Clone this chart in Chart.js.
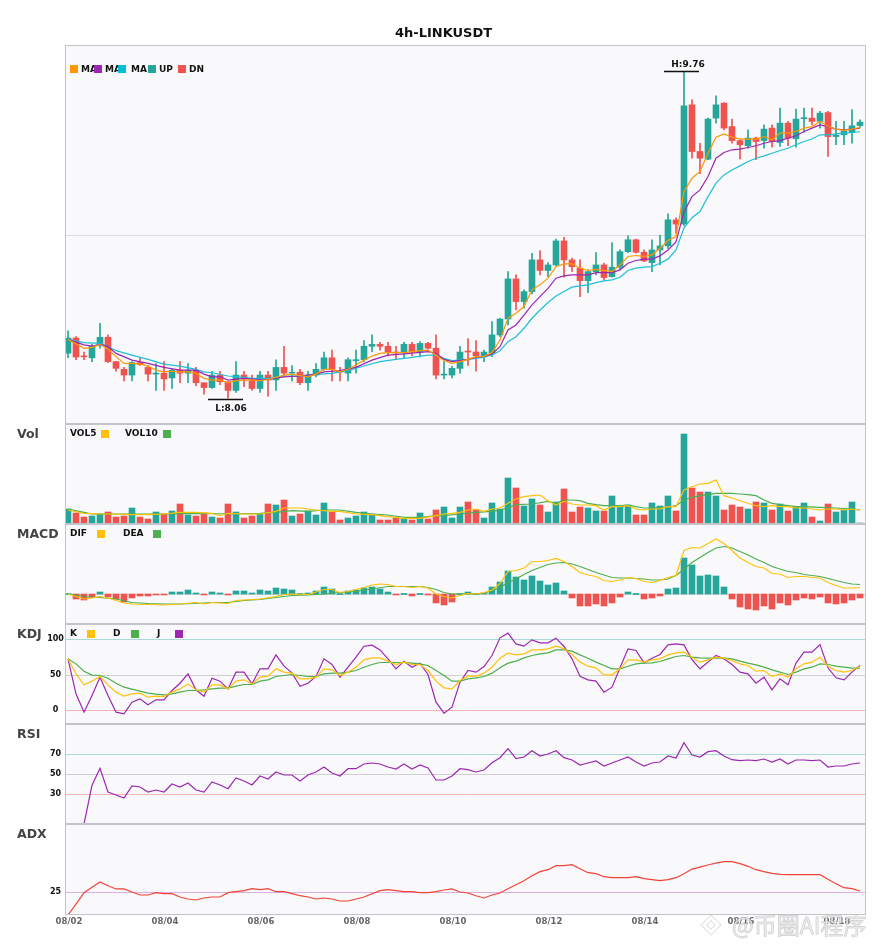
<!DOCTYPE html>
<html>
<head>
<meta charset="utf-8">
<title>4h-LINKUSDT</title>
<script src="https://cdn.jsdelivr.net/npm/chart.js@4.4.1/dist/chart.umd.min.js"></script>
<style>
  body { margin: 0; background: #fff; width: 885px; height: 950px; overflow: hidden; position: relative; }
  canvas { position: absolute; left: 0; }
</style>
</head>
<body>
<canvas id="cMain"></canvas>
<canvas id="cVol"></canvas>
<canvas id="cMacd"></canvas>
<canvas id="cKdj"></canvas>
<canvas id="cRsi"></canvas>
<canvas id="cAdx"></canvas>
<script>
// tick labels on the time axis (one 4h candle per index)
const dateTicks = ['08/02', '08/04', '08/06', '08/08', '08/10', '08/12', '08/14', '08/16', '08/18'];
const tickIndex = [0, 12, 24, 36, 48, 60, 72, 84, 96];

// candles
const open = [
  8.294, 8.373, 8.28, 8.27, 8.335, 8.377, 8.25, 8.21, 8.18, 8.245,
  8.22, 8.185, 8.19, 8.165, 8.205, 8.19, 8.205, 8.14, 8.115, 8.18,
  8.145, 8.10, 8.18, 8.155, 8.11, 8.18, 8.155, 8.22, 8.19, 8.195,
  8.14, 8.18, 8.21, 8.27, 8.20, 8.19, 8.255, 8.26, 8.33, 8.34,
  8.33, 8.30, 8.295, 8.34, 8.30, 8.345, 8.32, 8.18, 8.18, 8.215,
  8.305, 8.30, 8.275, 8.293, 8.389, 8.472, 8.681, 8.563, 8.615, 8.78,
  8.725, 8.754, 8.879, 8.78, 8.737, 8.672, 8.719, 8.754, 8.693, 8.742,
  8.823, 8.885, 8.82, 8.766, 8.832, 8.853, 8.988, 8.967, 9.588, 9.345,
  9.305, 9.519, 9.597, 9.475, 9.402, 9.375, 9.415, 9.402, 9.467, 9.392,
  9.493, 9.411, 9.516, 9.519, 9.502, 9.548, 9.423, 9.432, 9.444, 9.48
];
const high = [
  8.41, 8.38, 8.30, 8.34, 8.45, 8.39, 8.25, 8.22, 8.25, 8.27,
  8.23, 8.24, 8.25, 8.21, 8.25, 8.24, 8.22, 8.14, 8.20, 8.20,
  8.145, 8.25, 8.20, 8.18, 8.20, 8.20, 8.26, 8.33, 8.23, 8.21,
  8.20, 8.24, 8.30, 8.31, 8.22, 8.27, 8.31, 8.36, 8.39, 8.35,
  8.35, 8.33, 8.35, 8.35, 8.355, 8.35, 8.39, 8.25, 8.225, 8.33,
  8.37, 8.36, 8.31, 8.459, 8.476, 8.719, 8.702, 8.624, 8.815, 8.829,
  8.766, 8.888, 8.898, 8.789, 8.78, 8.728, 8.818, 8.763, 8.87, 8.832,
  8.905, 8.888, 8.832, 8.885, 8.91, 9.02, 9.00, 9.76, 9.614, 9.388,
  9.519, 9.635, 9.60, 9.514, 9.406, 9.458, 9.42, 9.484, 9.484, 9.571,
  9.502, 9.566, 9.571, 9.571, 9.554, 9.554, 9.502, 9.502, 9.563, 9.51
];
const low = [
  8.27, 8.26, 8.26, 8.25, 8.32, 8.245, 8.20, 8.15, 8.15, 8.23,
  8.15, 8.10, 8.10, 8.11, 8.14, 8.14, 8.125, 8.08, 8.11, 8.13,
  8.06, 8.09, 8.12, 8.10, 8.09, 8.07, 8.10, 8.18, 8.15, 8.13,
  8.10, 8.17, 8.205, 8.15, 8.15, 8.15, 8.19, 8.25, 8.30, 8.31,
  8.28, 8.26, 8.27, 8.28, 8.275, 8.315, 8.16, 8.16, 8.165, 8.19,
  8.23, 8.20, 8.25, 8.276, 8.38, 8.441, 8.519, 8.528, 8.603, 8.702,
  8.693, 8.749, 8.69, 8.72, 8.589, 8.61, 8.702, 8.676, 8.69, 8.728,
  8.818, 8.815, 8.771, 8.719, 8.754, 8.84, 8.92, 8.96, 9.31, 9.229,
  9.302, 9.493, 9.458, 9.388, 9.307, 9.363, 9.302, 9.363, 9.368, 9.371,
  9.375, 9.368, 9.444, 9.484, 9.467, 9.319, 9.38, 9.38, 9.389, 9.47
];
const close = [
  8.373, 8.274, 8.275, 8.33, 8.377, 8.25, 8.215, 8.18, 8.245, 8.235,
  8.185, 8.19, 8.16, 8.205, 8.19, 8.205, 8.14, 8.115, 8.18, 8.145,
  8.10, 8.18, 8.16, 8.11, 8.18, 8.155, 8.22, 8.19, 8.195, 8.14,
  8.18, 8.21, 8.27, 8.21, 8.195, 8.26, 8.26, 8.33, 8.34, 8.33,
  8.30, 8.295, 8.34, 8.30, 8.345, 8.32, 8.18, 8.185, 8.215, 8.30,
  8.30, 8.28, 8.30, 8.389, 8.472, 8.681, 8.563, 8.615, 8.78, 8.725,
  8.754, 8.879, 8.78, 8.745, 8.672, 8.719, 8.754, 8.688, 8.742, 8.823,
  8.885, 8.82, 8.775, 8.832, 8.853, 8.989, 8.967, 9.583, 9.345, 9.31,
  9.514, 9.588, 9.467, 9.402, 9.38, 9.415, 9.397, 9.462, 9.397, 9.493,
  9.415, 9.514, 9.519, 9.502, 9.545, 9.423, 9.43, 9.45, 9.479, 9.498
];

// moving averages (null = not read, line spans it)
const ma5 = [
  8.366, null, 8.319, 8.324, 8.34, 8.314, 8.276, 8.241, 8.241, 8.237,
  8.227, 8.206, 8.197, 8.2, 8.197, 8.197, 8.189, 8.163, 8.154, 8.154,
  8.14, 8.151, 8.154, 8.154, 8.151, 8.157, null, 8.18, 8.185, null,
  8.171, 8.185, 8.21, 8.21, 8.197, 8.21, 8.232, 8.258, 8.279, 8.293,
  8.297, null, 8.297, null, 8.307, 8.31, 8.284, 8.255, 8.241, 8.25,
  8.262, 8.276, 8.276, 8.297, 8.363, 8.476, 8.502, 8.537, 8.624, 8.65,
  8.685, 8.745, 8.759, 8.759, 8.737, 8.725, 8.731, 8.725, 8.719, 8.754,
  8.798, 8.803, 8.798, 8.806, 8.841, 8.881, 8.902, 9.135, 9.206, 9.241,
  9.336, 9.42, 9.437, 9.42, 9.41, 9.41, 9.41, 9.423, 9.406, 9.441,
  9.441, 9.449, 9.467, 9.475, 9.501, 9.475, 9.462, 9.455, 9.462, 9.47
];
const ma10 = [
  8.366, null, 8.337, 8.331, 8.34, 8.328, 8.293, null, 8.258, null,
  8.241, null, 8.22, null, 8.206, null, 8.206, 8.185, 8.171, 8.171,
  8.154, null, 8.163, null, 8.157, 8.157, null, 8.171, null, 8.175,
  null, 8.185, 8.197, null, 8.203, null, 8.22, null, 8.258, null,
  8.284, null, 8.29, null, 8.298, 8.302, 8.293, 8.262, 8.25, null,
  8.262, 8.273, 8.276, 8.29, 8.328, 8.415, 8.441, 8.493, 8.546, 8.589,
  8.632, 8.685, 8.697, 8.702, 8.702, 8.702, 8.714, 8.714, 8.714, 8.728,
  8.763, 8.777, 8.784, 8.784, 8.801, 8.832, 8.874, 9.03, 9.11, 9.145,
  9.215, 9.31, 9.34, 9.354, 9.357, 9.366, 9.375, 9.388, 9.397, 9.402,
  9.415, 9.427, 9.449, 9.467, 9.484, 9.475, 9.462, 9.458, 9.462, 9.467
];
const ma20 = [
  8.366, null, 8.349, null, 8.345, 8.328, 8.307, null, 8.284, null,
  8.262, null, 8.237, null, 8.227, null, 8.21, 8.197, 8.192, null,
  8.175, null, 8.168, 8.163, 8.163, 8.163, null, 8.175, null, 8.175,
  null, 8.184, null, 8.189, null, 8.203, null, 8.227, null, 8.25,
  null, 8.262, null, 8.272, null, 8.284, 8.284, 8.267, 8.255, null,
  8.262, 8.267, 8.273, 8.285, 8.307, 8.354, 8.38, 8.424, 8.476, 8.519,
  8.558, 8.592, 8.615, 8.638, 8.645, 8.65, 8.662, 8.671, 8.676, 8.69,
  8.725, 8.737, 8.742, 8.745, 8.763, 8.784, 8.832, 8.947, 9.0, 9.032,
  9.11, 9.18, 9.223, 9.249, 9.27, 9.293, 9.31, 9.322, 9.336, 9.35,
  9.362, 9.38, 9.397, 9.41, 9.432, 9.432, 9.437, 9.441, 9.444, 9.448
];

// volume (relative units, axis has no labels)
const volume = [
  15, 11, 7, 8, 10, 12, 7, 8, 16, 7,
  5, 12, 10, 13, 20, 9, 8, 11, 7, 6,
  20, 12, 6, 8, 10, 20, 19, 24, 8, 10,
  13, 9, 21, 12, 4, 6, 8, 12, 10, 4,
  4, 6, 5, 4, 11, 5, 14, 17, 6, 17,
  22, 14, 6, 21, 15, 46, 36, 18, 25, 19,
  12, 22, 35, 12, 17, 16, 13, 13, 28, 18,
  19, 9, 9, 21, 18, 28, 13, 90, 36, 32,
  32, 28, 14, 19, 17, 15, 22, 21, 14, 20,
  13, 17, 21, 7, 3, 20, 12, 14, 22, 1
];
const vol5 = [
  14, null, 10.7, null, 10, null, 10, null, 9.3, null,
  9.3, null, 10, null, 11.7, null, 11.7, null, 10.7, 8.3,
  10.7, null, 10, null, 10, null, 12.7, 16, null, 16,
  null, 14, null, 12.7, 12.7, null, 10, null, 9.3, null,
  7.3, null, 5.7, null, 5.7, null, 8.3, 10, 10.7, 11.7,
  14, 15, 12.7, 15, 16, 20.7, 25, 27.3, 28.3, 29,
  23.3, 19, 22.7, 20, 19, 19, 18.3, 14, 17.3, 17.3,
  18.3, 15, 14, 15, 15, 17.3, 17.3, 34, 37.3, 40,
  40.7, 44, 28.3, 26, 23.3, 20.7, 18.3, 17.3, 18.3, 17.3,
  17.3, 16, 16, 15, 14, 15, 15, 14, 15, 14
];
const vol10 = [
  15, null, 11.7, 10, null, 10, null, null, 10, null,
  null, null, 10, null, null, null, 10.7, null, null, null,
  10, null, null, null, 10.7, null, 11.7, null, 13.3, null,
  12.7, null, 14, null, 14, null, 11.7, null, 10, null,
  9, null, 6.7, null, 6.7, null, 8.3, 8.3, null, 10,
  null, 11.7, null, 12.7, 14, 16, 19.3, null, 20, null,
  22.7, 20.7, 24, 24, 23.3, 20.7, 19.3, 18.3, 18.3, 18.3,
  19, 17.3, 16, 16, 16.7, 16.7, 18.3, 24, 26.7, 28.3,
  29.3, 30.7, 30.7, 30.7, 30, 29.3, 28.3, 24, 20.7, 19.3,
  18.3, 17.3, 17.3, null, 16.7, null, 16, null, 15, 14
];

// MACD
const dif = [
  0, -0.005, -0.010, -0.008, -0.005, -0.008, -0.013, -0.018, -0.020, null,
  -0.021, null, -0.022, null, -0.020, null, -0.017, -0.020, -0.017, null,
  -0.019, -0.013, -0.012, null, -0.010, null, -0.005, -0.001, 0, null,
  -0.001, null, 0.009, 0.009, 0.003, 0.005, 0.009, 0.013, 0.018, 0.020,
  0.019, 0.015, 0.015, 0.013, 0.015, 0.012, 0, -0.005, -0.008, -0.003,
  0.001, 0, 0.003, 0.008, 0.021, 0.045, 0.047, 0.052, 0.065, 0.065,
  0.067, 0.071, 0.065, 0.055, 0.043, 0.038, 0.035, 0.027, 0.025, 0.028,
  0.033, 0.031, 0.025, 0.023, 0.027, 0.033, 0.037, 0.087, 0.093, 0.092,
  0.101, 0.110, 0.101, 0.087, 0.072, 0.063, 0.055, 0.052, 0.041, 0.040,
  0.033, 0.035, 0.035, 0.033, 0.032, 0.023, 0.017, 0.012, 0.012, 0.013
];
const dea = [
  0, null, -0.005, null, -0.007, null, -0.010, null, -0.017, null,
  -0.019, null, -0.020, null, -0.020, null, -0.019, null, -0.017, null,
  -0.017, null, -0.013, null, -0.011, null, -0.007, null, -0.003, null,
  -0.002, null, 0, null, 0.003, null, 0.005, null, 0.010, null,
  0.015, null, 0.015, null, 0.015, 0.013, 0.009, 0.003, 0, null,
  0, null, 0.001, 0.007, 0.013, 0.023, 0.030, 0.039, 0.047, 0.053,
  0.059, 0.062, 0.063, 0.060, 0.055, 0.049, 0.043, 0.038, 0.033, 0.032,
  0.032, 0.031, 0.030, 0.028, 0.028, 0.030, 0.037, 0.050, 0.063, 0.073,
  0.083, 0.092, 0.095, 0.092, 0.085, 0.078, 0.070, 0.063, 0.055, 0.050,
  0.045, 0.043, 0.039, 0.037, 0.035, 0.031, 0.027, 0.023, 0.020, 0.019
];
const macdHist = [
  0, -0.010, -0.012, -0.007, 0.004, -0.006, -0.010, -0.016, -0.008, -0.004,
  -0.004, -0.002, -0.002, 0.004, 0.004, 0.008, 0.002, -0.002, 0.004, 0.002,
  -0.002, 0.006, 0.006, 0.002, 0.008, 0.006, 0.012, 0.010, 0.008, 0.001,
  0.002, 0.006, 0.014, 0.010, 0.001, 0.006, 0.008, 0.012, 0.014, 0.010,
  0.004, -0.002, 0.001, -0.004, 0.001, -0.002, -0.018, -0.022, -0.016, 0.001,
  0.004, 0.001, 0.002, 0.014, 0.024, 0.046, 0.034, 0.028, 0.036, 0.026,
  0.018, 0.022, 0.006, -0.008, -0.024, -0.024, -0.020, -0.024, -0.018, -0.006,
  0.004, 0.001, -0.010, -0.008, -0.004, 0.010, 0.012, 0.072, 0.058, 0.036,
  0.038, 0.036, 0.014, -0.010, -0.026, -0.030, -0.032, -0.024, -0.030, -0.018,
  -0.022, -0.012, -0.008, -0.010, -0.006, -0.018, -0.020, -0.018, -0.012, -0.008
];

// KDJ
const kVals = [
  72.4, 51.2, 35.7, 40.9, 47.5, 35.7, 25.4, 19.7, 23, 24,
  18.3, 19.7, 19.3, 25.4, 30, 37.1, 28.7, 25.4, 35.7, 35.7,
  30, 40.9, 42.8, 37.1, 46.5, 47.9, 58.3, 53.6, 52.2, 44.2,
  44.2, 46.5, 58.3, 56.9, 48.9, 53.6, 60.6, 71, 73.8, 73.8,
  69.1, 64.4, 67.7, 64.4, 64.4, 55.9, 40.9, 31.5, 30, 41.8,
  47.9, 47.9, 52.2, 60.6, 73.3, 80.4, 78, 79.4, 85, 85,
  86.5, 90.2, 86.5, 78.5, 67.7, 62, 59.7, 49.8, 49.8, 58.3,
  71, 71, 67.7, 71, 72.4, 78, 80.8, 81.8, 74.7, 67.7,
  71, 74.7, 73.3, 70, 65.3, 63, 55, 55.9, 47.5, 51.2,
  46.5, 58.3, 65.3, 67.7, 74.7, 62, 55.9, 53.6, 55.9, 61.6
];
const dVals = [
  72.4, 65.3, 55, 49.4, 48.9, 45.1, 38, 32.4, 29.6, 26.8,
  24, 22.6, 21.6, 23, 25.4, 27.7, 27.7, 28.7, 30, 31,
  31, 33.8, 36.2, 36.2, 40.9, 42.8, 47.5, 48.9, 50.3, 48.9,
  47.5, 47.5, 51.2, 52.2, 52.2, 53.6, 55.9, 60.6, 64.4, 67.2,
  67.2, 67.2, 67.2, 66.3, 65.3, 63, 55.9, 48.9, 40.9, 40.9,
  44.2, 45.6, 47.5, 52.2, 59.7, 66.3, 69.1, 73.8, 77.1, 79.4,
  80.8, 85, 85, 83.2, 78, 73.3, 67.7, 63, 58.3, 58.3,
  62, 65.3, 66.3, 66.7, 68.6, 72.4, 75.7, 77.1, 74.7, 73.8,
  73.3, 73.3, 73.3, 72.4, 69.1, 66.3, 63.9, 60.6, 56.9, 53.6,
  50.3, 53.6, 58.3, 60.6, 65.3, 64.4, 62, 60.6, 59.2, 59.2
];
const jVals = [
  72.4, 23, -2.8, 20.7, 46.5, 20.7, -2.8, -5.2, 11.3, 16,
  7.5, 14.6, 14.6, 27.7, 38, 51.2, 28.7, 19.7, 45.1, 40.9,
  30, 53.6, 53.6, 37.1, 58.3, 58.3, 78, 62, 52.6, 33.8,
  38, 47.5, 72.4, 64.4, 46.5, 60.6, 74.7, 90.2, 91.6, 85,
  72.4, 58.3, 69.1, 60.6, 66.3, 50.3, 11.3, -4.2, 4.2, 39.5,
  55.9, 53.6, 61.6, 77.1, 102, 108.6, 93.5, 90.2, 99.2, 94.9,
  94.9, 101.5, 89.8, 72.4, 47.9, 42.8, 40.9, 25.4, 32.4, 59.7,
  86.5, 84.1, 66.7, 73.3, 78.5, 92.1, 93.5, 92.1, 71.4, 58.3,
  67.7, 77.1, 72.4, 64.4, 53.6, 51.2, 38, 46.5, 28.7, 44.2,
  35.7, 66.3, 81.8, 81.8, 92.6, 59.7, 45.6, 42.8, 53.6, 63
];

// RSI
const rsi = [
  null, null, 0, 38.7, 55.7, 32, 29, 26, 38, 37,
  32, 34, 32, 40, 37, 41, 34, 32, 42, 39,
  35.3, 46, 43, 39, 48, 45, 52, 49, 49, 43,
  49, 52, 57, 51, 48, 55.3, 55.3, 60, 61, 60,
  57, 55, 60, 55, 59, 56, 44, 44, 48, 55.3,
  54.3, 52, 54, 61.3, 66.3, 75.3, 65.3, 67, 73.3, 68,
  70, 73.3, 66.3, 64, 59, 61, 63, 58, 61, 64,
  67, 62, 58, 61, 62, 68, 66, 81.3, 69, 67,
  72.3, 73.3, 68, 64.3, 63.3, 64, 63.3, 65, 62, 65,
  60, 64, 64, 63.3, 64, 57, 58, 58, 60, 61
];

// ADX
const adx = [
  0, 12, 24.5, 30.4, 36.3, 32.2, 28.6, 28.6, 25.3, 22,
  22, 24.5, 23.4, 23.4, 19.8, 17.6, 16.5, 18.7, 19.8, 19.8,
  24.5, 25.6, 26.7, 28.9, 27.8, 28.9, 25.6, 25.6, 23.4, 21.2,
  19.8, 17.6, 18.7, 17.6, 15.4, 15.4, 17.6, 19.8, 23.4, 26.7,
  27.8, 26.7, 25.6, 25.6, 24.5, 24.5, 25.6, 27.5, 28.6, 25.3,
  24.2, 21.2, 18.7, 22, 24.2, 28.9, 33.3, 37.7, 43.2, 47.6,
  49.8, 54.2, 54.2, 55.3, 50.9, 46.5, 45.4, 42.1, 41, 41,
  41, 42.1, 39.9, 38.8, 37.7, 38.8, 41, 45.4, 50.5, 52.7,
  54.9, 57.1, 58.6, 58.6, 56.4, 53.5, 49.8, 47.6, 45.8, 44.7,
  44.3, 44.3, 44.3, 44.3, 44.3, 39.2, 34.4, 30, 28.9, 26.4
];

// ---- styling ----
const UP = '#26a69a', DN = '#ef5350';
const C_MA5 = '#ff9800', C_MA10 = '#9c27b0', C_MA20 = '#1ec0d8';
const C_YEL = '#ffc107', C_GRN = '#4caf50', C_PUR = '#9c27b0', C_ADX = '#f44336';
const PANEL_BG = '#f9f9fb', FRAME = '#c3c3cb';
const FONT = '"DejaVu Sans", "Noto Sans", sans-serif';
const X_MIN = -0.375, X_MAX = 99.75;

const candleColor = close.map((c, i) => (c >= open[i] ? UP : DN));
const histColor = macdHist.map(v => (v >= 0 ? UP : DN));
const xy = arr => arr.map((v, i) => ({ x: i, y: v }));

function lineSet(arr, color, width) {
  return {
    type: 'line', data: xy(arr), borderColor: color, borderWidth: width || 1.2,
    pointRadius: 0, spanGaps: true, fill: false, tension: 0, order: 0
  };
}
function barSet(arr, colors, thick, order) {
  return {
    type: 'bar', data: arr, backgroundColor: colors, borderWidth: 0,
    barThickness: thick, grouped: false, minBarLength: 1, order: order
  };
}
function text(ctx, s, x, y, font, color, align) {
  ctx.font = font;
  ctx.fillStyle = color;
  ctx.textAlign = align || 'left';
  ctx.textBaseline = 'middle';
  ctx.fillText(s, x, y);
}
function drawLegend(ctx, items, y) {
  items.forEach(it => {
    if (it.sq) {
      ctx.fillStyle = it.sq;
      ctx.fillRect(it.x, Math.round(y - 4), 8, 8);
    } else {
      text(ctx, it.t, it.x, y + 0.5, 'bold 9px ' + FONT, '#111');
    }
  });
}

function panelPlugin(spec) {
  return {
    id: 'panel',
    beforeDraw(chart) {
      const { ctx, chartArea: a } = chart;
      ctx.save();
      ctx.fillStyle = PANEL_BG;
      ctx.fillRect(a.left, a.top, a.right - a.left, a.bottom - a.top);
      ctx.restore();
    },
    beforeDatasetsDraw(chart) {
      const { ctx, chartArea: a, scales } = chart;
      ctx.save();
      ctx.lineWidth = 1;
      (spec.refs || []).forEach(([v, c]) => {
        const py = Math.round(scales.y.getPixelForValue(v)) + 0.5;
        ctx.strokeStyle = c;
        ctx.beginPath();
        ctx.moveTo(a.left, py);
        ctx.lineTo(a.right, py);
        ctx.stroke();
      });
      ctx.restore();
    },
    afterDraw(chart) {
      const { ctx, chartArea: a, scales } = chart;
      ctx.save();
      ctx.strokeStyle = FRAME;
      ctx.lineWidth = 1;
      ctx.strokeRect(a.left + 0.5, a.top + 0.5, a.right - a.left - 1, a.bottom - a.top - 1);
      if (spec.label) text(ctx, spec.label, 17, a.top + 11, 'bold 12.5px ' + FONT, '#444');
      (spec.ticks || []).forEach(v =>
        text(ctx, String(v), 55.5, scales.y.getPixelForValue(v), 'bold 8px ' + FONT, '#111', 'center'));
      if (spec.legend) drawLegend(ctx, spec.legend, a.top + spec.legendY);
      if (spec.extra) spec.extra(chart, ctx);
      ctx.restore();
    }
  };
}

function makeChart(id, top, height, pad, yMin, yMax, datasets, spec) {
  const cv = document.getElementById(id);
  cv.width = 885;
  cv.height = height;
  cv.style.top = top + 'px';
  cv.style.width = '885px';
  cv.style.height = height + 'px';
  return new Chart(cv, {
    type: 'bar',
    data: { datasets },
    options: {
      responsive: false,
      animation: false,
      events: [],
      layout: { padding: { left: 65, right: 19, top: pad[0], bottom: pad[1] } },
      plugins: { legend: { display: false }, tooltip: { enabled: false } },
      scales: {
        x: { type: 'linear', min: X_MIN, max: X_MAX, offset: false, display: false },
        y: { type: 'linear', min: yMin, max: yMax, beginAtZero: false, display: false }
      }
    },
    plugins: [panelPlugin(spec)]
  });
}

// ---- price panel ----
const hiIdx = high.indexOf(Math.max(...high));
const loIdx = low.indexOf(Math.min(...low));

makeChart('cMain', 0, 424, [45, 0], 7.925, 9.90, [
  lineSet(ma5, C_MA5),
  lineSet(ma10, C_MA10),
  lineSet(ma20, C_MA20),
  barSet(open.map((o, i) => ({ x: i, y: [o, close[i]] })), candleColor, 6, 1),
  barSet(low.map((l, i) => ({ x: i, y: [l, high[i]] })), candleColor, 1, 2)
], {
  refs: [[(7.925 + 9.90) / 2, '#dcdcdf']],
  legendY: 24,
  legend: [
    { sq: C_MA5, x: 70 }, { t: 'MA', x: 81 },
    { sq: C_MA10, x: 94 }, { t: 'MA', x: 105 },
    { sq: '#00bcd4', x: 118 }, { t: 'MA', x: 131 },
    { sq: UP, x: 148 }, { t: 'UP', x: 159 },
    { sq: DN, x: 178 }, { t: 'DN', x: 189 }
  ],
  extra(chart, ctx) {
    const { x, y } = chart.scales;
    text(ctx, '4h-LINKUSDT', 443.5, 34, 'bold 13px ' + FONT, '#111', 'center');
    ctx.strokeStyle = '#111';
    ctx.lineWidth = 1.5;
    const hx = x.getPixelForValue(hiIdx), hy = Math.round(y.getPixelForValue(high[hiIdx])) - 0.5;
    ctx.beginPath(); ctx.moveTo(hx - 20, hy); ctx.lineTo(hx + 15, hy); ctx.stroke();
    text(ctx, 'H:' + high[hiIdx].toFixed(2), hx + 4, hy - 7, 'bold 9px ' + FONT, '#111', 'center');
    const lx = x.getPixelForValue(loIdx), ly = Math.round(y.getPixelForValue(low[loIdx])) + 1.5;
    ctx.beginPath(); ctx.moveTo(lx - 20, ly); ctx.lineTo(lx + 15, ly); ctx.stroke();
    text(ctx, 'L:' + low[loIdx].toFixed(2), lx + 3, ly + 9, 'bold 9px ' + FONT, '#111', 'center');
  }
});

// ---- volume ----
makeChart('cVol', 424, 100, [0, 0], 0, 100, [
  lineSet(vol5, C_YEL),
  lineSet(vol10, C_GRN),
  barSet(xy(volume), candleColor, 6, 1)
], {
  label: 'Vol',
  legendY: 9.5,
  legend: [{ t: 'VOL5', x: 70 }, { sq: C_YEL, x: 101 }, { t: 'VOL10', x: 125 }, { sq: C_GRN, x: 163 }]
});

// ---- MACD ----
makeChart('cMacd', 524, 100, [0, 0], -0.06, 0.14, [
  lineSet(dif, C_YEL),
  lineSet(dea, C_GRN),
  barSet(macdHist.map((v, i) => ({ x: i, y: [0, v] })), histColor, 6, 1)
], {
  label: 'MACD',
  refs: [[0, '#d2d2d6']],
  legendY: 9.5,
  legend: [{ t: 'DIF', x: 70 }, { sq: C_YEL, x: 97 }, { t: 'DEA', x: 123 }, { sq: C_GRN, x: 153 }]
});

// ---- KDJ ----
makeChart('cKdj', 624, 100, [0, 0], -19.5, 121.5, [
  lineSet(kVals, C_YEL),
  lineSet(dVals, C_GRN),
  lineSet(jVals, C_PUR)
], {
  label: 'KDJ',
  refs: [[100, '#a9dad6'], [50, '#cfcfd2'], [0, '#f5b3b3']],
  ticks: [100, 50, 0],
  legendY: 9.5,
  legend: [
    { t: 'K', x: 70 }, { sq: C_YEL, x: 87 },
    { t: 'D', x: 113 }, { sq: C_GRN, x: 131 },
    { t: 'J', x: 157 }, { sq: C_PUR, x: 175 }
  ]
});

// ---- RSI ----
makeChart('cRsi', 724, 100, [0, 0], 0, 100, [
  lineSet(rsi, C_PUR)
], {
  label: 'RSI',
  refs: [[70, '#a9dad6'], [50, '#cfcfd2'], [30, '#f5b3b3']],
  ticks: [70, 50, 30]
});

// ---- ADX ----
makeChart('cAdx', 824, 126, [0, 35], 0, 100, [
  lineSet(adx, C_ADX)
], {
  label: 'ADX',
  refs: [[25, '#dcaee4']],
  ticks: [25],
  extra(chart, ctx) {
    const { x } = chart.scales;
    const by = chart.chartArea.bottom + 7;
    tickIndex.forEach((idx, k) =>
      text(ctx, dateTicks[k], x.getPixelForValue(idx) + 1, by, 'bold 8.5px ' + FONT, '#666', 'center'));
    // watermark of the source image
    ctx.save();
    ctx.globalAlpha = 0.55;
    ctx.strokeStyle = '#c4c4c4';
    ctx.lineWidth = 1;
    ctx.translate(711, 101);
    ctx.rotate(Math.PI / 4);
    ctx.strokeRect(-7, -7, 14, 14);
    ctx.strokeRect(-3, -3, 6, 6);
    ctx.restore();
    ctx.save();
    ctx.font = '23px "Noto Sans CJK SC", sans-serif';
    ctx.textAlign = 'left';
    ctx.textBaseline = 'middle';
    ctx.fillStyle = 'rgba(245,245,245,0.85)';
    ctx.strokeStyle = 'rgba(190,190,190,0.6)';
    ctx.lineWidth = 1;
    ctx.fillText('@币圈AI程序', 732, 101);
    ctx.strokeText('@币圈AI程序', 732, 101);
    ctx.restore();
  }
});
</script>
</body>
</html>
